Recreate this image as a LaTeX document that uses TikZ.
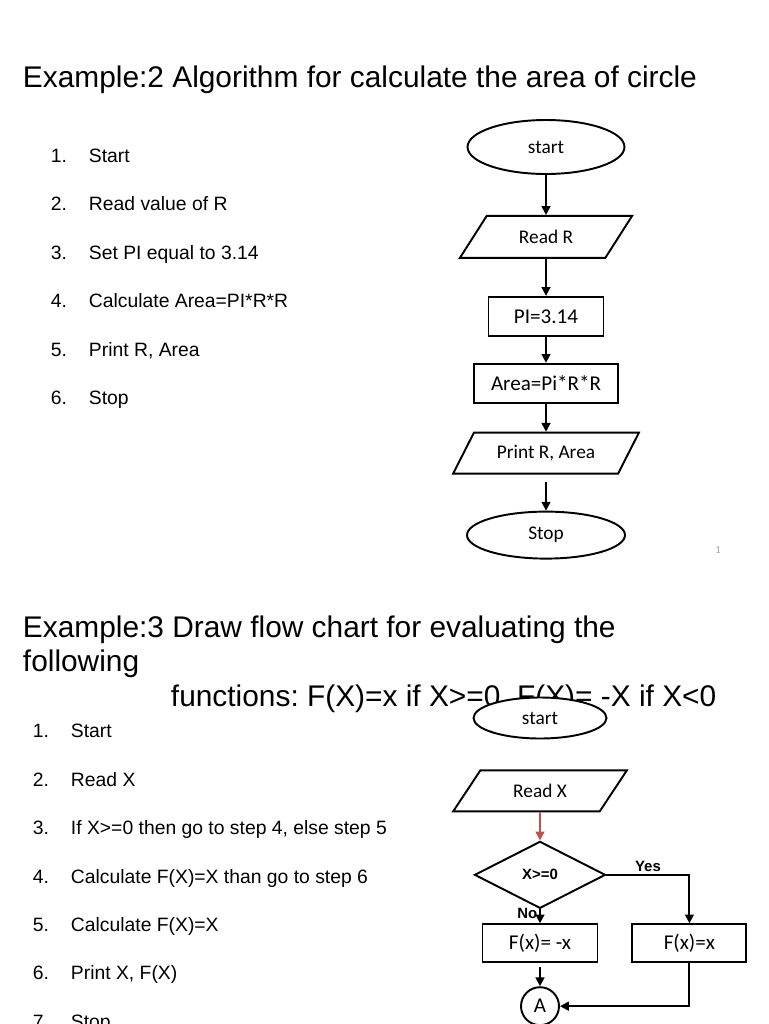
\documentclass[tikz,border=0pt]{standalone}
\usepackage{fontspec}
\setmainfont{Liberation Sans}
\newfontfamily\boxfont{Carlito}
\usetikzlibrary{positioning,shapes.geometric,arrows.meta}
\definecolor{flowred}{RGB}{192,80,77}
\definecolor{pagegray}{RGB}{160,160,160}
\frenchspacing

\begin{document}
\begin{tikzpicture}[x=0.02cm, y=-0.02cm, line width=1.1pt,
  >={Triangle[length=5pt,width=5pt]},
  title/.style = {anchor=base west, inner sep=0pt, font=\fontsize{17}{19}\selectfont},
  item/.style = {anchor=base west, inner sep=0pt, font=\fontsize{11}{13}\selectfont},
  term/.style = {draw, ellipse, inner sep=0pt, font=\boxfont\fontsize{11}{13}\selectfont},
  io/.style = {draw, trapezium, trapezium left angle=48, trapezium right angle=132,
    trapezium stretches=true, inner sep=0pt, font=\boxfont\fontsize{11}{13}\selectfont},
  proc/.style = {draw, rectangle, inner sep=0pt, font=\boxfont\fontsize{12}{14}\selectfont},
  dec/.style = {draw, diamond, inner sep=0pt, font=\bfseries\fontsize{8.5}{10}\selectfont},
  conn/.style = {draw, circle, inner sep=0pt, minimum size=0.76cm, font=\boxfont\fontsize{12}{14}\selectfont},
  tag/.style = {inner sep=1pt, font=\bfseries\fontsize{8.5}{10}\selectfont}]
\useasboundingbox (0,0) rectangle (768,1024);

% example 2
\node[title] (t1) at (22,88) {Example:2 Algorithm for calculate the area of circle};
\node[item] (n11) at (50,162) {1.};  \node[item] (i11) at (88,162) {Start};
\node[item] (n12) at (50,210) {2.};  \node[item] (i12) at (88,210) {Read value of R};
\node[item] (n13) at (50,259) {3.};  \node[item] (i13) at (88,259) {Set PI equal to 3.14};
\node[item] (n14) at (50,307) {4.};  \node[item] (i14) at (88,307) {Calculate Area=PI*R*R};
\node[item] (n15) at (50,356) {5.};  \node[item] (i15) at (88,356) {Print R, Area};
\node[item] (n16) at (50,404) {6.};  \node[item] (i16) at (88,404) {Stop};

\node[term, minimum width=3.14cm, minimum height=1.08cm] (start1) at (546,147) {start};
\node[io, minimum width=3.46cm, minimum height=0.84cm] (readr) [below=0.80cm of start1] {Read R};
\node[proc, minimum width=2.30cm, minimum height=0.78cm] (pi) [below=0.74cm of readr] {PI=3.14};
\node[proc, minimum width=2.88cm, minimum height=0.78cm] (area) [below=0.52cm of pi] {Area=Pi*R*R};
\node[io, minimum width=3.74cm, minimum height=0.82cm] (print) [below=0.56cm of area] {Print R, Area};
\node[term, minimum width=3.16cm, minimum height=0.94cm] (stop) [below=0.72cm of print] {Stop};
\draw[->] (start1) -- (readr);
\draw[->] (readr) -- (pi);
\draw[->] (pi) -- (area);
\draw[->] (area) -- (print);
\draw[->] ([yshift=-0.14cm]print.south) -- (stop);
\node[pagegray, font=\boxfont\fontsize{6}{7}\selectfont] (pg) at (718,550) {1};

% example 3
\node[title] (t2) at (22,637) {Example:3 Draw flow chart for evaluating the};
\node[title] (t3) at (22,671) {following};
\node[title] (t4) at (170,706) {functions: F(X)=x if X>=0, F(X)= -X if X<0};
\node[item] (n21) at (32,737) {1.};  \node[item] (i21) at (70,737) {Start};
\node[item] (n22) at (32,786) {2.};  \node[item] (i22) at (70,786) {Read X};
\node[item] (n23) at (32,834) {3.};  \node[item] (i23) at (70,834) {If X>=0 then go to step 4, else step 5};
\node[item] (n24) at (32,883) {4.};  \node[item] (i24) at (70,883) {Calculate F(X)=X than go to step 6};
\node[item] (n25) at (32,931) {5.};  \node[item] (i25) at (70,931) {Calculate F(X)=X};
\node[item] (n26) at (32,979) {6.};  \node[item] (i26) at (70,979) {Print X, F(X)};
\node[item] (n27) at (32,1028) {7.}; \node[item] (i27) at (70,1028) {Stop};

\node[term, fill=white, minimum width=2.66cm, minimum height=0.82cm] (start2) at (540,718) {start};
\node[io, minimum width=3.48cm, minimum height=0.82cm] (readx) [below=0.60cm of start2] {Read X};
\node[dec, minimum width=2.62cm, minimum height=1.34cm] (test) [below=0.56cm of readx] {X>=0};
\node[proc, minimum width=2.30cm, minimum height=0.76cm] (fneg) [below=0.28cm of test] {F(x)= -x};
\node[proc, minimum width=2.28cm, minimum height=0.76cm] (fpos) [right=0.66cm of fneg] {F(x)=x};
\node[conn] (join) [below=0.46cm of fneg] {A};
\draw[->, flowred] (readx) -- (test);
\draw[->] (test.east) -| (fpos.north) node[tag, pos=0.25, above] {Yes};
\draw[->] (test.south) -- (fneg.north) node[tag, pos=0.3, left] {No};
\draw[->] ([yshift=-0.08cm]fneg.south) -- (join);
\draw[->] (fpos.south) |- (join.east);
\end{tikzpicture}
\end{document}
